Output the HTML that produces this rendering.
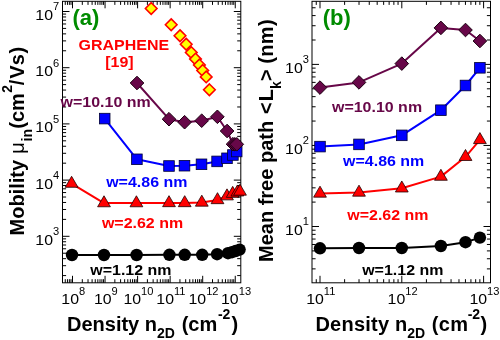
<!DOCTYPE html>
<html><head><meta charset="utf-8"><title>Mobility and mean free path vs density</title>
<style>html,body{margin:0;padding:0;background:#fff;}body{width:500px;height:340px;overflow:hidden;}svg{display:block;}text{font-family:"Liberation Sans",Arial,Helvetica,sans-serif;}.tl{font-size:15px;fill:#000;}.ex{font-size:10.5px;}.lab{font-size:15px;font-weight:bold;}.ax{font-size:20px;font-weight:bold;fill:#000;}.pl{font-size:22px;font-weight:bold;fill:#008b00;}</style></head><body>
<svg width="500" height="340" viewBox="0 0 500 340">
<rect width="500" height="340" fill="#fff"/>
<path d="M65.28 282.80V279.20M65.28 1.30V4.90M67.46 282.80V279.20M67.46 1.30V4.90M69.35 282.80V279.20M69.35 1.30V4.90M71.01 282.80V279.20M71.01 1.30V4.90M72.50 282.80V275.80M72.50 1.30V8.30M82.30 282.80V279.20M82.30 1.30V4.90M88.03 282.80V279.20M88.03 1.30V4.90M92.10 282.80V279.20M92.10 1.30V4.90M95.25 282.80V279.20M95.25 1.30V4.90M97.83 282.80V279.20M97.83 1.30V4.90M100.01 282.80V279.20M100.01 1.30V4.90M101.90 282.80V279.20M101.90 1.30V4.90M103.56 282.80V279.20M103.56 1.30V4.90M105.05 282.80V275.80M105.05 1.30V8.30M114.85 282.80V279.20M114.85 1.30V4.90M120.58 282.80V279.20M120.58 1.30V4.90M124.65 282.80V279.20M124.65 1.30V4.90M127.80 282.80V279.20M127.80 1.30V4.90M130.38 282.80V279.20M130.38 1.30V4.90M132.56 282.80V279.20M132.56 1.30V4.90M134.45 282.80V279.20M134.45 1.30V4.90M136.11 282.80V279.20M136.11 1.30V4.90M137.60 282.80V275.80M137.60 1.30V8.30M147.40 282.80V279.20M147.40 1.30V4.90M153.13 282.80V279.20M153.13 1.30V4.90M157.20 282.80V279.20M157.20 1.30V4.90M160.35 282.80V279.20M160.35 1.30V4.90M162.93 282.80V279.20M162.93 1.30V4.90M165.11 282.80V279.20M165.11 1.30V4.90M167.00 282.80V279.20M167.00 1.30V4.90M168.66 282.80V279.20M168.66 1.30V4.90M170.15 282.80V275.80M170.15 1.30V8.30M179.95 282.80V279.20M179.95 1.30V4.90M185.68 282.80V279.20M185.68 1.30V4.90M189.75 282.80V279.20M189.75 1.30V4.90M192.90 282.80V279.20M192.90 1.30V4.90M195.48 282.80V279.20M195.48 1.30V4.90M197.66 282.80V279.20M197.66 1.30V4.90M199.55 282.80V279.20M199.55 1.30V4.90M201.21 282.80V279.20M201.21 1.30V4.90M202.70 282.80V275.80M202.70 1.30V8.30M212.50 282.80V279.20M212.50 1.30V4.90M218.23 282.80V279.20M218.23 1.30V4.90M222.30 282.80V279.20M222.30 1.30V4.90M225.45 282.80V279.20M225.45 1.30V4.90M228.03 282.80V279.20M228.03 1.30V4.90M230.21 282.80V279.20M230.21 1.30V4.90M232.10 282.80V279.20M232.10 1.30V4.90M233.76 282.80V279.20M233.76 1.30V4.90M235.25 282.80V275.80M235.25 1.30V8.30M62.50 275.58H66.10M240.80 275.58H237.20M62.50 265.69H66.10M240.80 265.69H237.20M62.50 258.66H66.10M240.80 258.66H237.20M62.50 253.22H66.10M240.80 253.22H237.20M62.50 248.77H66.10M240.80 248.77H237.20M62.50 245.01H66.10M240.80 245.01H237.20M62.50 241.75H66.10M240.80 241.75H237.20M62.50 238.87H66.10M240.80 238.87H237.20M62.50 236.30H69.50M240.80 236.30H233.80M62.50 219.38H66.10M240.80 219.38H237.20M62.50 209.49H66.10M240.80 209.49H237.20M62.50 202.46H66.10M240.80 202.46H237.20M62.50 197.02H66.10M240.80 197.02H237.20M62.50 192.57H66.10M240.80 192.57H237.20M62.50 188.81H66.10M240.80 188.81H237.20M62.50 185.55H66.10M240.80 185.55H237.20M62.50 182.67H66.10M240.80 182.67H237.20M62.50 180.10H69.50M240.80 180.10H233.80M62.50 163.18H66.10M240.80 163.18H237.20M62.50 153.29H66.10M240.80 153.29H237.20M62.50 146.26H66.10M240.80 146.26H237.20M62.50 140.82H66.10M240.80 140.82H237.20M62.50 136.37H66.10M240.80 136.37H237.20M62.50 132.61H66.10M240.80 132.61H237.20M62.50 129.35H66.10M240.80 129.35H237.20M62.50 126.47H66.10M240.80 126.47H237.20M62.50 123.90H69.50M240.80 123.90H233.80M62.50 106.98H66.10M240.80 106.98H237.20M62.50 97.09H66.10M240.80 97.09H237.20M62.50 90.06H66.10M240.80 90.06H237.20M62.50 84.62H66.10M240.80 84.62H237.20M62.50 80.17H66.10M240.80 80.17H237.20M62.50 76.41H66.10M240.80 76.41H237.20M62.50 73.15H66.10M240.80 73.15H237.20M62.50 70.27H66.10M240.80 70.27H237.20M62.50 67.70H69.50M240.80 67.70H233.80M62.50 50.78H66.10M240.80 50.78H237.20M62.50 40.89H66.10M240.80 40.89H237.20M62.50 33.86H66.10M240.80 33.86H237.20M62.50 28.42H66.10M240.80 28.42H237.20M62.50 23.97H66.10M240.80 23.97H237.20M62.50 20.21H66.10M240.80 20.21H237.20M62.50 16.95H66.10M240.80 16.95H237.20M62.50 14.07H66.10M240.80 14.07H237.20M62.50 11.50H69.50M240.80 11.50H233.80" stroke="#000" stroke-width="1" fill="none"/>
<rect x="62.5" y="1.3" width="178.30" height="281.50" fill="none" stroke="#000" stroke-width="1"/>
<path d="M316.26 282.80V279.20M316.26 1.30V4.90M320.00 282.80V275.80M320.00 1.30V8.30M344.62 282.80V279.20M344.62 1.30V4.90M359.03 282.80V279.20M359.03 1.30V4.90M369.25 282.80V279.20M369.25 1.30V4.90M377.18 282.80V279.20M377.18 1.30V4.90M383.65 282.80V279.20M383.65 1.30V4.90M389.13 282.80V279.20M389.13 1.30V4.90M393.87 282.80V279.20M393.87 1.30V4.90M398.06 282.80V279.20M398.06 1.30V4.90M401.80 282.80V275.80M401.80 1.30V8.30M426.42 282.80V279.20M426.42 1.30V4.90M440.83 282.80V279.20M440.83 1.30V4.90M451.05 282.80V279.20M451.05 1.30V4.90M458.98 282.80V279.20M458.98 1.30V4.90M465.45 282.80V279.20M465.45 1.30V4.90M470.93 282.80V279.20M470.93 1.30V4.90M475.67 282.80V279.20M475.67 1.30V4.90M479.86 282.80V279.20M479.86 1.30V4.90M483.60 282.80V275.80M483.60 1.30V8.30M312.00 268.88H315.60M490.50 268.88H486.90M312.00 258.75H315.60M490.50 258.75H486.90M312.00 250.90H315.60M490.50 250.90H486.90M312.00 244.48H315.60M490.50 244.48H486.90M312.00 239.05H315.60M490.50 239.05H486.90M312.00 234.35H315.60M490.50 234.35H486.90M312.00 230.21H315.60M490.50 230.21H486.90M312.00 226.50H319.00M490.50 226.50H483.50M312.00 202.10H315.60M490.50 202.10H486.90M312.00 187.83H315.60M490.50 187.83H486.90M312.00 177.70H315.60M490.50 177.70H486.90M312.00 169.85H315.60M490.50 169.85H486.90M312.00 163.43H315.60M490.50 163.43H486.90M312.00 158.00H315.60M490.50 158.00H486.90M312.00 153.30H315.60M490.50 153.30H486.90M312.00 149.16H315.60M490.50 149.16H486.90M312.00 145.45H319.00M490.50 145.45H483.50M312.00 121.05H315.60M490.50 121.05H486.90M312.00 106.78H315.60M490.50 106.78H486.90M312.00 96.65H315.60M490.50 96.65H486.90M312.00 88.80H315.60M490.50 88.80H486.90M312.00 82.38H315.60M490.50 82.38H486.90M312.00 76.95H315.60M490.50 76.95H486.90M312.00 72.25H315.60M490.50 72.25H486.90M312.00 68.11H315.60M490.50 68.11H486.90M312.00 64.40H319.00M490.50 64.40H483.50M312.00 40.00H315.60M490.50 40.00H486.90M312.00 25.73H315.60M490.50 25.73H486.90M312.00 15.60H315.60M490.50 15.60H486.90M312.00 7.75H315.60M490.50 7.75H486.90" stroke="#000" stroke-width="1" fill="none"/>
<rect x="312.0" y="1.3" width="178.50" height="281.50" fill="none" stroke="#000" stroke-width="1"/>
<text transform="translate(73.30 303.7) scale(1.06 1)" text-anchor="middle" class="tl">10<tspan class="ex" dy="-9">8</tspan></text><text transform="translate(105.85 303.7) scale(1.06 1)" text-anchor="middle" class="tl">10<tspan class="ex" dy="-9">9</tspan></text><text transform="translate(138.40 303.7) scale(1.06 1)" text-anchor="middle" class="tl">10<tspan class="ex" dy="-9">10</tspan></text><text transform="translate(170.95 303.7) scale(1.06 1)" text-anchor="middle" class="tl">10<tspan class="ex" dy="-9">11</tspan></text><text transform="translate(203.50 303.7) scale(1.06 1)" text-anchor="middle" class="tl">10<tspan class="ex" dy="-9">12</tspan></text><text transform="translate(236.05 303.7) scale(1.06 1)" text-anchor="middle" class="tl">10<tspan class="ex" dy="-9">13</tspan></text>
<text transform="translate(59.20 244.70) scale(1.06 1)" text-anchor="end" class="tl">10<tspan class="ex" dy="-9.5">3</tspan></text><text transform="translate(59.20 188.50) scale(1.06 1)" text-anchor="end" class="tl">10<tspan class="ex" dy="-9.5">4</tspan></text><text transform="translate(59.20 132.30) scale(1.06 1)" text-anchor="end" class="tl">10<tspan class="ex" dy="-9.5">5</tspan></text><text transform="translate(59.20 76.10) scale(1.06 1)" text-anchor="end" class="tl">10<tspan class="ex" dy="-9.5">6</tspan></text><text transform="translate(59.20 19.90) scale(1.06 1)" text-anchor="end" class="tl">10<tspan class="ex" dy="-9.5">7</tspan></text>
<text transform="translate(320.80 303.7) scale(1.06 1)" text-anchor="middle" class="tl">10<tspan class="ex" dy="-9">11</tspan></text><text transform="translate(402.60 303.7) scale(1.06 1)" text-anchor="middle" class="tl">10<tspan class="ex" dy="-9">12</tspan></text><text transform="translate(484.40 303.7) scale(1.06 1)" text-anchor="middle" class="tl">10<tspan class="ex" dy="-9">13</tspan></text>
<text transform="translate(308.90 234.90) scale(1.06 1)" text-anchor="end" class="tl">10<tspan class="ex" dy="-9.5">1</tspan></text><text transform="translate(308.90 153.85) scale(1.06 1)" text-anchor="end" class="tl">10<tspan class="ex" dy="-9.5">2</tspan></text><text transform="translate(308.90 72.80) scale(1.06 1)" text-anchor="end" class="tl">10<tspan class="ex" dy="-9.5">3</tspan></text>
<path d="M72.00 255.00L104.00 255.00L136.60 255.00L169.40 254.80L184.70 254.80L202.20 254.80L217.10 254.20L228.00 253.20L232.00 252.20L235.60 251.00L239.60 249.60" fill="none" stroke="#000" stroke-width="2.0" stroke-linejoin="round"/>
<circle cx="72.00" cy="255.00" r="6.2" fill="#000"/><circle cx="104.00" cy="255.00" r="6.2" fill="#000"/><circle cx="136.60" cy="255.00" r="6.2" fill="#000"/><circle cx="169.40" cy="254.80" r="6.2" fill="#000"/><circle cx="184.70" cy="254.80" r="6.2" fill="#000"/><circle cx="202.20" cy="254.80" r="6.2" fill="#000"/><circle cx="217.10" cy="254.20" r="6.2" fill="#000"/><circle cx="228.00" cy="253.20" r="6.2" fill="#000"/><circle cx="232.00" cy="252.20" r="6.2" fill="#000"/><circle cx="235.60" cy="251.00" r="6.2" fill="#000"/><circle cx="239.60" cy="249.60" r="6.2" fill="#000"/>
<path d="M71.60 183.60L104.00 203.10L136.40 203.10L169.00 203.00L184.70 203.00L201.80 202.50L217.50 200.00L227.00 196.20L232.70 193.70L237.40 192.30L240.00 191.50" fill="none" stroke="#ff0000" stroke-width="2.0" stroke-linejoin="round"/>
<path d="M71.60 176.27L78.00 187.27L65.20 187.27Z" fill="#ff0000" stroke="#200000" stroke-width="0.8" stroke-linejoin="miter"/><path d="M104.00 195.77L110.40 206.77L97.60 206.77Z" fill="#ff0000" stroke="#200000" stroke-width="0.8" stroke-linejoin="miter"/><path d="M136.40 195.77L142.80 206.77L130.00 206.77Z" fill="#ff0000" stroke="#200000" stroke-width="0.8" stroke-linejoin="miter"/><path d="M169.00 195.67L175.40 206.67L162.60 206.67Z" fill="#ff0000" stroke="#200000" stroke-width="0.8" stroke-linejoin="miter"/><path d="M184.70 195.67L191.10 206.67L178.30 206.67Z" fill="#ff0000" stroke="#200000" stroke-width="0.8" stroke-linejoin="miter"/><path d="M201.80 195.17L208.20 206.17L195.40 206.17Z" fill="#ff0000" stroke="#200000" stroke-width="0.8" stroke-linejoin="miter"/><path d="M217.50 192.67L223.90 203.67L211.10 203.67Z" fill="#ff0000" stroke="#200000" stroke-width="0.8" stroke-linejoin="miter"/><path d="M227.00 188.87L233.40 199.87L220.60 199.87Z" fill="#ff0000" stroke="#200000" stroke-width="0.8" stroke-linejoin="miter"/><path d="M232.70 186.37L239.10 197.37L226.30 197.37Z" fill="#ff0000" stroke="#200000" stroke-width="0.8" stroke-linejoin="miter"/><path d="M237.40 184.97L243.80 195.97L231.00 195.97Z" fill="#ff0000" stroke="#200000" stroke-width="0.8" stroke-linejoin="miter"/><path d="M240.00 184.17L246.40 195.17L233.60 195.17Z" fill="#ff0000" stroke="#200000" stroke-width="0.8" stroke-linejoin="miter"/>
<path d="M104.70 118.60L136.90 159.30L169.00 166.00L184.50 165.70L201.50 164.30L217.10 161.40L227.00 158.30L232.90 155.00L236.70 151.50" fill="none" stroke="#0000ff" stroke-width="2.0" stroke-linejoin="round"/>
<rect x="99.40" y="113.30" width="10.60" height="10.60" fill="#0000ff" stroke="#000033" stroke-width="0.8"/><rect x="131.60" y="154.00" width="10.60" height="10.60" fill="#0000ff" stroke="#000033" stroke-width="0.8"/><rect x="163.70" y="160.70" width="10.60" height="10.60" fill="#0000ff" stroke="#000033" stroke-width="0.8"/><rect x="179.20" y="160.40" width="10.60" height="10.60" fill="#0000ff" stroke="#000033" stroke-width="0.8"/><rect x="196.20" y="159.00" width="10.60" height="10.60" fill="#0000ff" stroke="#000033" stroke-width="0.8"/><rect x="211.80" y="156.10" width="10.60" height="10.60" fill="#0000ff" stroke="#000033" stroke-width="0.8"/><rect x="221.70" y="153.00" width="10.60" height="10.60" fill="#0000ff" stroke="#000033" stroke-width="0.8"/><rect x="227.60" y="149.70" width="10.60" height="10.60" fill="#0000ff" stroke="#000033" stroke-width="0.8"/><rect x="231.40" y="146.20" width="10.60" height="10.60" fill="#0000ff" stroke="#000033" stroke-width="0.8"/>
<path d="M137.00 83.00L169.00 119.20L184.60 122.20L201.70 120.70L217.40 116.80L227.10 131.00L233.00 144.20L235.00 144.30L236.80 144.30" fill="none" stroke="#670748" stroke-width="2.0" stroke-linejoin="round"/>
<path d="M137.00 76.20L143.80 83.00L137.00 89.80L130.20 83.00Z" fill="#670748" stroke="#1a0010" stroke-width="1.0"/><path d="M169.00 112.40L175.80 119.20L169.00 126.00L162.20 119.20Z" fill="#670748" stroke="#1a0010" stroke-width="1.0"/><path d="M184.60 115.40L191.40 122.20L184.60 129.00L177.80 122.20Z" fill="#670748" stroke="#1a0010" stroke-width="1.0"/><path d="M201.70 113.90L208.50 120.70L201.70 127.50L194.90 120.70Z" fill="#670748" stroke="#1a0010" stroke-width="1.0"/><path d="M217.40 110.00L224.20 116.80L217.40 123.60L210.60 116.80Z" fill="#670748" stroke="#1a0010" stroke-width="1.0"/><path d="M227.10 124.20L233.90 131.00L227.10 137.80L220.30 131.00Z" fill="#670748" stroke="#1a0010" stroke-width="1.0"/><path d="M233.00 137.40L239.80 144.20L233.00 151.00L226.20 144.20Z" fill="#670748" stroke="#1a0010" stroke-width="1.0"/><path d="M235.00 137.50L241.80 144.30L235.00 151.10L228.20 144.30Z" fill="#670748" stroke="#1a0010" stroke-width="1.0"/><path d="M236.80 137.50L243.60 144.30L236.80 151.10L230.00 144.30Z" fill="#670748" stroke="#1a0010" stroke-width="1.0"/>
<path d="M151.20 2.70L157.00 8.50L151.20 14.30L145.40 8.50Z" fill="#ffff00" stroke="#ff0000" stroke-width="1.6"/><path d="M171.20 18.90L177.00 24.70L171.20 30.50L165.40 24.70Z" fill="#ffff00" stroke="#ff0000" stroke-width="1.6"/><path d="M180.00 29.90L185.80 35.70L180.00 41.50L174.20 35.70Z" fill="#ffff00" stroke="#ff0000" stroke-width="1.6"/><path d="M186.20 38.40L192.00 44.20L186.20 50.00L180.40 44.20Z" fill="#ffff00" stroke="#ff0000" stroke-width="1.6"/><path d="M191.30 46.70L197.10 52.50L191.30 58.30L185.50 52.50Z" fill="#ffff00" stroke="#ff0000" stroke-width="1.6"/><path d="M195.50 53.30L201.30 59.10L195.50 64.90L189.70 59.10Z" fill="#ffff00" stroke="#ff0000" stroke-width="1.6"/><path d="M199.40 59.20L205.20 65.00L199.40 70.80L193.60 65.00Z" fill="#ffff00" stroke="#ff0000" stroke-width="1.6"/><path d="M202.70 64.70L208.50 70.50L202.70 76.30L196.90 70.50Z" fill="#ffff00" stroke="#ff0000" stroke-width="1.6"/><path d="M206.20 71.10L212.00 76.90L206.20 82.70L200.40 76.90Z" fill="#ffff00" stroke="#ff0000" stroke-width="1.6"/><path d="M209.40 84.00L215.20 89.80L209.40 95.60L203.60 89.80Z" fill="#ffff00" stroke="#ff0000" stroke-width="1.6"/>
<path d="M320.00 248.30L359.00 248.00L401.80 248.00L440.90 246.00L465.50 242.20L479.90 237.60" fill="none" stroke="#000" stroke-width="2.0" stroke-linejoin="round"/>
<circle cx="320.00" cy="248.30" r="6.2" fill="#000"/><circle cx="359.00" cy="248.00" r="6.2" fill="#000"/><circle cx="401.80" cy="248.00" r="6.2" fill="#000"/><circle cx="440.90" cy="246.00" r="6.2" fill="#000"/><circle cx="465.50" cy="242.20" r="6.2" fill="#000"/><circle cx="479.90" cy="237.60" r="6.2" fill="#000"/>
<path d="M320.00 193.50L359.00 192.50L401.80 188.30L440.90 176.60L465.50 156.80L479.90 139.90" fill="none" stroke="#ff0000" stroke-width="2.0" stroke-linejoin="round"/>
<path d="M320.00 186.17L326.40 197.17L313.60 197.17Z" fill="#ff0000" stroke="#200000" stroke-width="0.8" stroke-linejoin="miter"/><path d="M359.00 185.17L365.40 196.17L352.60 196.17Z" fill="#ff0000" stroke="#200000" stroke-width="0.8" stroke-linejoin="miter"/><path d="M401.80 180.97L408.20 191.97L395.40 191.97Z" fill="#ff0000" stroke="#200000" stroke-width="0.8" stroke-linejoin="miter"/><path d="M440.90 169.27L447.30 180.27L434.50 180.27Z" fill="#ff0000" stroke="#200000" stroke-width="0.8" stroke-linejoin="miter"/><path d="M465.50 149.47L471.90 160.47L459.10 160.47Z" fill="#ff0000" stroke="#200000" stroke-width="0.8" stroke-linejoin="miter"/><path d="M479.90 132.57L486.30 143.57L473.50 143.57Z" fill="#ff0000" stroke="#200000" stroke-width="0.8" stroke-linejoin="miter"/>
<path d="M320.00 146.60L359.00 144.40L401.80 135.35L440.90 110.20L465.50 85.50L479.90 67.80" fill="none" stroke="#0000ff" stroke-width="2.0" stroke-linejoin="round"/>
<rect x="314.70" y="141.30" width="10.60" height="10.60" fill="#0000ff" stroke="#000033" stroke-width="0.8"/><rect x="353.70" y="139.10" width="10.60" height="10.60" fill="#0000ff" stroke="#000033" stroke-width="0.8"/><rect x="396.50" y="130.05" width="10.60" height="10.60" fill="#0000ff" stroke="#000033" stroke-width="0.8"/><rect x="435.60" y="104.90" width="10.60" height="10.60" fill="#0000ff" stroke="#000033" stroke-width="0.8"/><rect x="460.20" y="80.20" width="10.60" height="10.60" fill="#0000ff" stroke="#000033" stroke-width="0.8"/><rect x="474.60" y="62.50" width="10.60" height="10.60" fill="#0000ff" stroke="#000033" stroke-width="0.8"/>
<path d="M320.00 87.60L359.00 82.40L401.80 63.60L440.90 27.90L465.50 30.00L479.90 41.00" fill="none" stroke="#670748" stroke-width="2.0" stroke-linejoin="round"/>
<path d="M320.00 80.80L326.80 87.60L320.00 94.40L313.20 87.60Z" fill="#670748" stroke="#1a0010" stroke-width="1.0"/><path d="M359.00 75.60L365.80 82.40L359.00 89.20L352.20 82.40Z" fill="#670748" stroke="#1a0010" stroke-width="1.0"/><path d="M401.80 56.80L408.60 63.60L401.80 70.40L395.00 63.60Z" fill="#670748" stroke="#1a0010" stroke-width="1.0"/><path d="M440.90 21.10L447.70 27.90L440.90 34.70L434.10 27.90Z" fill="#670748" stroke="#1a0010" stroke-width="1.0"/><path d="M465.50 23.20L472.30 30.00L465.50 36.80L458.70 30.00Z" fill="#670748" stroke="#1a0010" stroke-width="1.0"/><path d="M479.90 34.20L486.70 41.00L479.90 47.80L473.10 41.00Z" fill="#670748" stroke="#1a0010" stroke-width="1.0"/>
<text x="72.5" y="24.5" class="pl">(a)</text>
<text x="322.8" y="24.5" class="pl">(b)</text>
<text transform="translate(78.6 50.4) scale(1.065 1)" class="lab" fill="#ff0000">GRAPHENE</text>
<text transform="translate(105.3 67) scale(1.065 1)" class="lab" fill="#ff0000">[19]</text>
<text transform="translate(60.6 107.2) scale(1.065 1)" class="lab" fill="#670748">w=10.10 nm</text>
<text transform="translate(106.2 186.8) scale(1.065 1)" class="lab" fill="#0000ff">w=4.86 nm</text>
<text transform="translate(101.9 227.6) scale(1.065 1)" class="lab" fill="#ff0000">w=2.62 nm</text>
<text transform="translate(90.3 275.2) scale(1.065 1)" class="lab" fill="#000">w=1.12 nm</text>
<text transform="translate(332 112.4) scale(1.065 1)" class="lab" fill="#670748">w=10.10 nm</text>
<text transform="translate(343.1 165.6) scale(1.065 1)" class="lab" fill="#0000ff">w=4.86 nm</text>
<text transform="translate(347.3 220) scale(1.065 1)" class="lab" fill="#ff0000">w=2.62 nm</text>
<text transform="translate(362.2 274.8) scale(1.065 1)" class="lab" fill="#000">w=1.12 nm</text>
<text x="67.0" y="330.6" class="ax"><tspan letter-spacing="0.0">Density</tspan> n<tspan font-size="14px" dy="7.8">2D</tspan><tspan dy="-7.8" dx="1.2" letter-spacing="0.0"> (cm</tspan><tspan font-size="14px" dy="-12" dx="0.7">-2</tspan><tspan dy="12" dx="1.2">)</tspan></text>
<text x="315.4" y="330.6" class="ax"><tspan letter-spacing="0.25">Density</tspan> n<tspan font-size="14px" dy="7.8">2D</tspan><tspan dy="-7.8" dx="0.9" letter-spacing="0.3"> (cm</tspan><tspan font-size="14px" dy="-12" dx="-0.6">-2</tspan><tspan dy="12" dx="0.4">)</tspan></text>
<text transform="translate(24.1 235.5) rotate(-90)" class="ax">Mobility <tspan font-weight="normal" dx="0.7">μ</tspan><tspan font-size="14px" dy="7.8" dx="0.7">in</tspan><tspan dy="-7.8" dx="0.3">(cm</tspan><tspan font-size="14px" dy="-12" dx="0.5">2</tspan><tspan dy="12" dx="-0.5">/</tspan><tspan dx="1.0">V</tspan><tspan dx="0.3">s</tspan><tspan dx="0.5">)</tspan></text>
<text transform="translate(273.2 262) rotate(-90)" class="ax">Mean free path <tspan dx="1.2">&lt;</tspan><tspan dx="1.1">L</tspan><tspan font-size="14px" dy="7.8" dx="0.2">k</tspan><tspan dy="-7.8" dx="0.2">&gt;</tspan><tspan dx="-0.3" letter-spacing="0.3"> (nm)</tspan></text>
</svg></body></html>
